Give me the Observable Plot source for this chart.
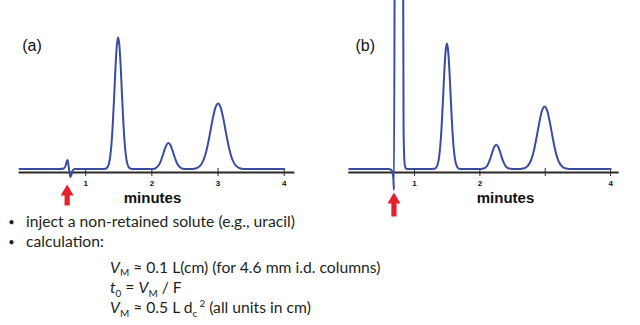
<!DOCTYPE html>
<html>
<head>
<meta charset="utf-8">
<script src="https://cdn.jsdelivr.net/npm/d3@7"></script>
<script src="https://cdn.jsdelivr.net/npm/@observablehq/plot@0.6"></script>
<style>
  body { margin: 0; background: #fff; }
  #wrap { position: relative; width: 640px; height: 325px; overflow: hidden; background: #fff; }
  #a, #b { position: absolute; top: 0; }
  #a { left: 0; }
  #b { left: 330px; }
  #a svg, #b svg { overflow: hidden; display: block; }
</style>
</head>
<body>
<div id="wrap"><div id="a"></div><div id="b"></div></div>
<script>
// ---------- data ----------
// Panel (a): time (min) and detector signal (baseline = 0)
const timeA = [0.00, 0.30, 0.60, 0.67, 0.70, 0.715, 0.725, 0.74, 0.755, 0.77, 0.785, 0.80, 0.83, 1.20,
  1.30, 1.33, 1.35, 1.37, 1.39, 1.41, 1.43, 1.45, 1.47, 1.49, 1.51, 1.53, 1.55, 1.57, 1.59, 1.61, 1.63, 1.65, 1.68, 1.72,
  2.00, 2.04, 2.07, 2.10, 2.13, 2.16, 2.19, 2.22, 2.25, 2.28, 2.31, 2.34, 2.37, 2.40, 2.43, 2.47, 2.52,
  2.62, 2.67, 2.72, 2.76, 2.80, 2.84, 2.88, 2.92, 2.96, 3.00, 3.04, 3.08, 3.12, 3.16, 3.20, 3.24, 3.28, 3.33, 3.38, 3.70, 4.00];
const signalA = [0, 0, 0, 0.5, 4, 8, 9, 4, -3, -8, -6, -2, 0, 0,
  0.3, 1.9, 5.1, 12.2, 25, 46, 72, 101, 123, 131.5, 123, 101, 72, 46, 25, 12.2, 5.1, 1.9, 0.3, 0,
  0, 0.3, 1.5, 3.5, 7.2, 12.7, 18.9, 24, 26, 24, 18.9, 12.7, 7.2, 3.5, 1.5, 0.3, 0,
  0, 0.7, 2.6, 6.1, 12.5, 22.8, 36.2, 50.4, 61.4, 65.6, 61.4, 50.4, 36.2, 22.8, 12.5, 6.1, 2.6, 0.7, 0, 0, 0];

// Panel (b): the solvent disturbance runs off the top of the panel
const timeB = [0.00, 0.40, 0.60, 0.635, 0.66, 0.675, 0.685, 0.705, 0.815, 0.832, 0.847, 0.862, 0.89, 1.20,
  1.305, 1.335, 1.355, 1.375, 1.395, 1.415, 1.435, 1.455, 1.475, 1.495, 1.515, 1.535, 1.555, 1.575, 1.595, 1.615, 1.635, 1.655, 1.685, 1.72,
  2.00, 2.03, 2.07, 2.10, 2.13, 2.16, 2.19, 2.22, 2.25, 2.28, 2.31, 2.34, 2.37, 2.40, 2.43, 2.47, 2.52,
  2.62, 2.66, 2.71, 2.75, 2.79, 2.83, 2.87, 2.91, 2.95, 2.99, 3.03, 3.07, 3.11, 3.15, 3.19, 3.23, 3.27, 3.32, 3.37, 3.70, 4.00];
const signalB = [0, 0, 0, -0.5, -3, -9, -21, 420, 420, 40, 6, 1, 0, 0,
  0.3, 1.8, 4.9, 11.6, 24, 43.6, 69.3, 96.5, 117.6, 125.6, 117.6, 96.5, 69.3, 43.6, 24, 11.6, 4.9, 1.8, 0.3, 0,
  0, 0.2, 0.9, 2.4, 5.6, 10.6, 16.8, 22.2, 24.3, 22.2, 16.8, 10.6, 5.6, 2.4, 0.9, 0.2, 0,
  0, 0.45, 1.8, 4.6, 10.2, 19.6, 32.6, 46.8, 58.2, 62.6, 58.2, 46.8, 32.6, 19.6, 10.2, 4.6, 1.8, 0.45, 0, 0, 0];

const tickValues = [1, 2, 3, 4];
const tickLabelsA = ["1", "2", "3", "4"];
const tickLabelsB = ["1", "2", "", "4"];
const injectionA = [0.72];   // t0 marker (a)
const injectionB = [0.685];  // t0 marker (b)
const panelLabels = ["(a)", "(b)"];
const xLabel = "minutes";

const bulletLines = ["inject a non-retained solute (e.g., uracil)", "calculation:"];
const formulaLines = [
  [["V", "var"], ["M", "sub"], [" \u2248 0.1 L(cm) (for 4.6 mm i.d. columns)", ""]],
  [["t", "var"], ["0", "sub"], [" = ", ""], ["V", "var"], ["M", "sub"], [" / F", ""]],
  [["V", "var"], ["M", "sub"], [" \u2248 0.5 L d", ""], ["c", "sub"], ["2", "sup"], [" (all units in cm)", ""]]
];

// ---------- drawing ----------
const traceColor = "#3a4ca0";
const arrowColor = "#e4202a";

const blockArrow = {
  draw(context, l) {
    const hw = 6.5, hl = 11, sw = 2.6;
    context.moveTo(-sw, 0);
    context.lineTo(-sw, -l + hl);
    context.lineTo(-hw, -l + hl);
    context.lineTo(0, -l);
    context.lineTo(hw, -l + hl);
    context.lineTo(sw, -l + hl);
    context.lineTo(sw, 0);
    context.closePath();
  }
};

function panel({time, signal, labels, injection, label, width, height, marginLeft, marginRight, xMax,
                labelDx, minutesDx, arrowDy, arrowLen}) {
  const data = time.map((t, i) => ({t, s: signal[i]}));
  const fmt = new Map(tickValues.map((v, i) => [v, labels[i]]));
  return Plot.plot({
    width, height,
    marginTop: 0, marginBottom: height - 172,
    marginLeft, marginRight,
    style: {fontFamily: "'Liberation Sans', Arial, sans-serif", background: "transparent", overflow: "hidden"},
    x: {domain: [0, xMax], axis: null},
    y: {domain: [-3.5, 168.5], axis: null},
    marks: [
      Plot.frame({anchor: "bottom", stroke: "#2b2b2b", strokeWidth: 1.8}),
      Plot.axisX(tickValues, {anchor: "bottom", tickSize: 8, dy: -4, tickPadding: 4, fontSize: 8, fontWeight: "bold",
        tickFormat: d => fmt.get(d), stroke: "#2b2b2b", fill: "#111", label: null}),
      Plot.lineY(data, {x: "t", y: "s", stroke: traceColor, strokeWidth: 2, curve: "monotone-x"}),
      Plot.vector(injection, {x: d => d, frameAnchor: "bottom", dy: arrowDy, length: arrowLen, anchor: "end",
        shape: blockArrow, fill: arrowColor, stroke: "none"}),
      Plot.text([label], {frameAnchor: "top-left", dx: labelDx, dy: 45, lineAnchor: "middle", textAnchor: "start",
        fontSize: 16, fill: "#111"}),
      Plot.text([xLabel], {frameAnchor: "bottom", dx: minutesDx, dy: 25.5, lineAnchor: "middle",
        fontSize: 15, fontWeight: "bold", fill: "#111"})
    ]
  });
}

document.getElementById("a").appendChild(panel({
  time: timeA, signal: signalA, labels: tickLabelsA, injection: injectionA, label: panelLabels[0],
  width: 320, height: 215, marginLeft: 19, marginRight: 27, xMax: 4.14,
  labelDx: 2.7, minutesDx: -4, arrowDy: 12, arrowLen: 21
}));
document.getElementById("b").appendChild(panel({
  time: timeB, signal: signalB, labels: tickLabelsB, injection: injectionB, label: panelLabels[1],
  width: 310, height: 225, marginLeft: 18.7, marginRight: 22.7, xMax: 4.11,
  labelDx: 6.3, minutesDx: 22, arrowDy: 20, arrowLen: 24
}));

// text block below the chromatograms
const tsvg = d3.select("#wrap").insert("svg", ":first-child")
  .attr("width", 640).attr("height", 325)
  .style("position", "absolute").style("left", 0).style("top", 0)
  .attr("font-family", "Lato, 'Open Sans', sans-serif").attr("fill", "#231f20").attr("font-size", 15);

const lines = [];
bulletLines.forEach((s, i) => {
  const y = 227 + i * 20;
  tsvg.append("text").attr("x", 11.5).attr("y", y - 1).attr("text-anchor", "middle").attr("font-size", 11).text("\u2022");
  lines.push({node: tsvg.append("text").text(s), x: 26, y});
});
const formulaY = [272.5, 293, 313];
formulaLines.forEach((segs, i) => {
  const t = tsvg.append("text");
  let shift = 0;
  segs.forEach(([txt, kind]) => {
    const target = kind === "sub" ? 3.5 : kind === "sup" ? -6 : 0;
    const sp = t.append("tspan").attr("dy", target - shift).text(txt);
    shift = target;
    if (kind === "var") sp.attr("font-style", "italic");
    if (kind === "sub" || kind === "sup") sp.attr("font-size", 9.5);
    if (kind === "sup") sp.attr("dx", 2);
  });
  lines.push({node: t, x: 110, y: formulaY[i]});
});
// condense horizontally to match the narrow typeface of the original
const ref = lines[0].node.node().getComputedTextLength();
const k = 269 / ref;
lines.forEach(({node, x, y}) => node.attr("transform", `translate(${x},${y}) scale(${k},1)`));
</script>
</body>
</html>
